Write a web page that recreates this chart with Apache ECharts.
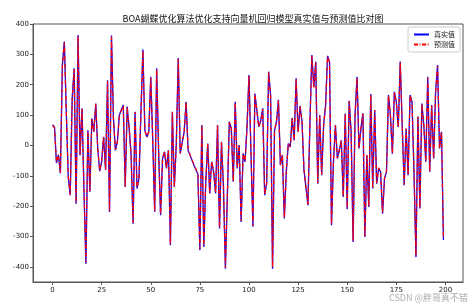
<!DOCTYPE html>
<html>
<head>
<meta charset="utf-8">
<script src="https://cdn.jsdelivr.net/npm/echarts@6/dist/echarts.min.js"></script>
<style>html,body{margin:0;padding:0;background:#fff}#c{width:474px;height:305px}</style>
</head>
<body>
<div id="c"></div>
<script>
const titleText = 'BOA蝴蝶优化算法优化支持向量机回归模型真实值与预测值比对图';
const seriesNames = ['真实值', '预测值'];
const xTicks = [0, 25, 50, 75, 100, 125, 150, 175, 200];
const yTicks = [-400, -300, -200, -100, 0, 100, 200, 300, 400];

const trueVals = [
  68, 60, -58, -32, -92, 265, 342, 110, -105, -164,
  155, 254, -192, 364, -32, 122, -150, -390, 50, -153,
  89, 45, 138, -10, -85, -54, 28, -81, 215, -219,
  362, 89, -16, 12, 100, 117, 133, -137, 128, 56,
  -32, -258, 111, -142, -109, 111, 316, 50, 28, 45,
  226, 20, -219, 254, -20, -230, -43, -21, -76, -16,
  -329, 111, -137, 6, 288, -27, -21, 45, 144, -16,
  -32, -32, -65, -70, -95, -345, 67, -335, -120, 6,
  -158, -54, -87, -158, 67, -274, 12, -137, -406, -164,
  78, 56, -120, 144, -76, 1, -252, -27, -54, 61,
  232, -20, -268, 171, 166, 61, 83, 122, -164, -126,
  243, 166, -406, 50, 78, 150, -65, -32, -241, -87,
  6, -5, 91, 17, 221, 45, 130, 78, -81, -87,
  -197, 67, 298, 193, 276, -126, 100, -98, 67, 133,
  295, 276, -263, -54, 67, -43, -16, 17, -170, 105,
  -210, 147, 45, -318, 100, 226, -10, 56, 106, -302,
  -32, -203, 169, -142, 117, -126, -76, -87, -225, -109,
  -87, 166, 100, -27, 177, 144, 61, 276, 67, -131,
  56, -98, 166, 144, -87, -368, 95, -208, 138, 67,
  -54, 226, -87, 133, -43, 177, 265, -10, 45, -312
];

const predVals = [
  66, 58, -56, -30, -90, 262, 339, 108, -103, -162,
  153, 251, -189, 360, -30, 120, -148, -386, 49, -150,
  87, 44, 136, -9, -83, -52, 27, -79, 212, -216,
  358, 88, -15, 12, 99, 116, 131, -135, 126, 55,
  -31, -255, 110, -140, -107, 110, 312, 49, 28, 44,
  223, 20, -216, 251, -19, -227, -42, -20, -74, -15,
  -325, 110, -135, 6, 285, -26, -20, 44, 142, -15,
  -31, -31, -64, -69, -93, -341, 66, -331, -118, 6,
  -156, -53, -85, -156, 66, -271, 12, -135, -402, -162,
  77, 55, -118, 142, -74, 1, -249, -26, -53, 60,
  229, -19, -265, 169, 164, 60, 82, 120, -162, -124,
  240, 164, -402, 49, 77, 148, -64, -31, -238, -85,
  6, -4, 90, 17, 218, 44, 128, 77, -79, -85,
  -195, 66, 295, 191, 273, -124, 99, -96, 66, 131,
  292, 273, -260, -53, 66, -42, -15, 17, -168, 104,
  -207, 145, 44, -314, 99, 223, -9, 55, 105, -299,
  -31, -200, 167, -140, 116, -124, -74, -85, -222, -107,
  -85, 164, 99, -26, 175, 142, 60, 273, 66, -129,
  55, -96, 164, 142, -85, -364, 94, -205, 136, 66,
  -53, 223, -85, 131, -42, 175, 262, -9, 44, -309
];

const chart = echarts.init(document.getElementById('c'), null, {renderer: 'canvas'});
const axisColor = '#555';
const labelFont = {fontSize: 7, color: '#222', fontFamily: 'DejaVu Sans'};

chart.setOption({
  animation: false,
  backgroundColor: '#fff',
  title: {
    text: titleText,
    left: 248, top: 9,
    textAlign: 'center',
    textStyle: {fontSize: 9, fontWeight: 'normal', color: '#111', fontFamily: 'Noto Sans CJK SC'}
  },
  legend: {
    orient: 'vertical',
    right: 14, top: 27,
    itemWidth: 15, itemHeight: 6, itemGap: 3,
    padding: [4, 5, 4, 5],
    borderColor: '#ccc', borderWidth: 1, borderRadius: 2,
    itemStyle: {opacity: 0},
    textStyle: {fontSize: 7, color: '#222', fontFamily: 'Noto Sans CJK SC'},
    data: seriesNames
  },
  grid: {
    left: 33, right: 11, top: 24, bottom: 23,
    show: true, borderColor: axisColor, borderWidth: 1
  },
  xAxis: {
    type: 'value', min: -9.95, max: 208.95,
    splitLine: {show: false},
    axisLine: {show: true, onZero: false, lineStyle: {color: axisColor}},
    axisTick: {show: true, length: 3, customValues: xTicks, lineStyle: {color: axisColor}},
    axisLabel: Object.assign({customValues: xTicks, margin: 5}, labelFont)
  },
  yAxis: {
    type: 'value', min: -450, max: 400,
    splitLine: {show: false},
    axisLine: {show: true, onZero: false, lineStyle: {color: axisColor}},
    axisTick: {show: true, length: 3, customValues: yTicks, lineStyle: {color: axisColor}},
    axisLabel: Object.assign({customValues: yTicks, margin: 4}, labelFont)
  },
  series: [
    {
      name: seriesNames[0], type: 'line', symbol: 'none',
      data: trueVals.map((v, i) => [i, v]),
      lineStyle: {color: '#0000ff', width: 1.3},
      itemStyle: {color: '#0000ff'}, z: 2
    },
    {
      name: seriesNames[1], type: 'line', symbol: 'none',
      data: predVals.map((v, i) => [i, v]),
      lineStyle: {color: '#ff0000', width: 1.3, type: [4, 1.5, 1, 1.5]},
      itemStyle: {color: '#ff0000'}, z: 3
    }
  ],
  graphic: [{
    type: 'text', right: 6, bottom: 3,
    style: {text: 'CSDN @胖哥真不错', fontSize: 9, fill: 'rgba(150,150,150,0.8)', fontFamily: 'Noto Sans CJK SC'}
  }]
});
</script>
</body>
</html>
